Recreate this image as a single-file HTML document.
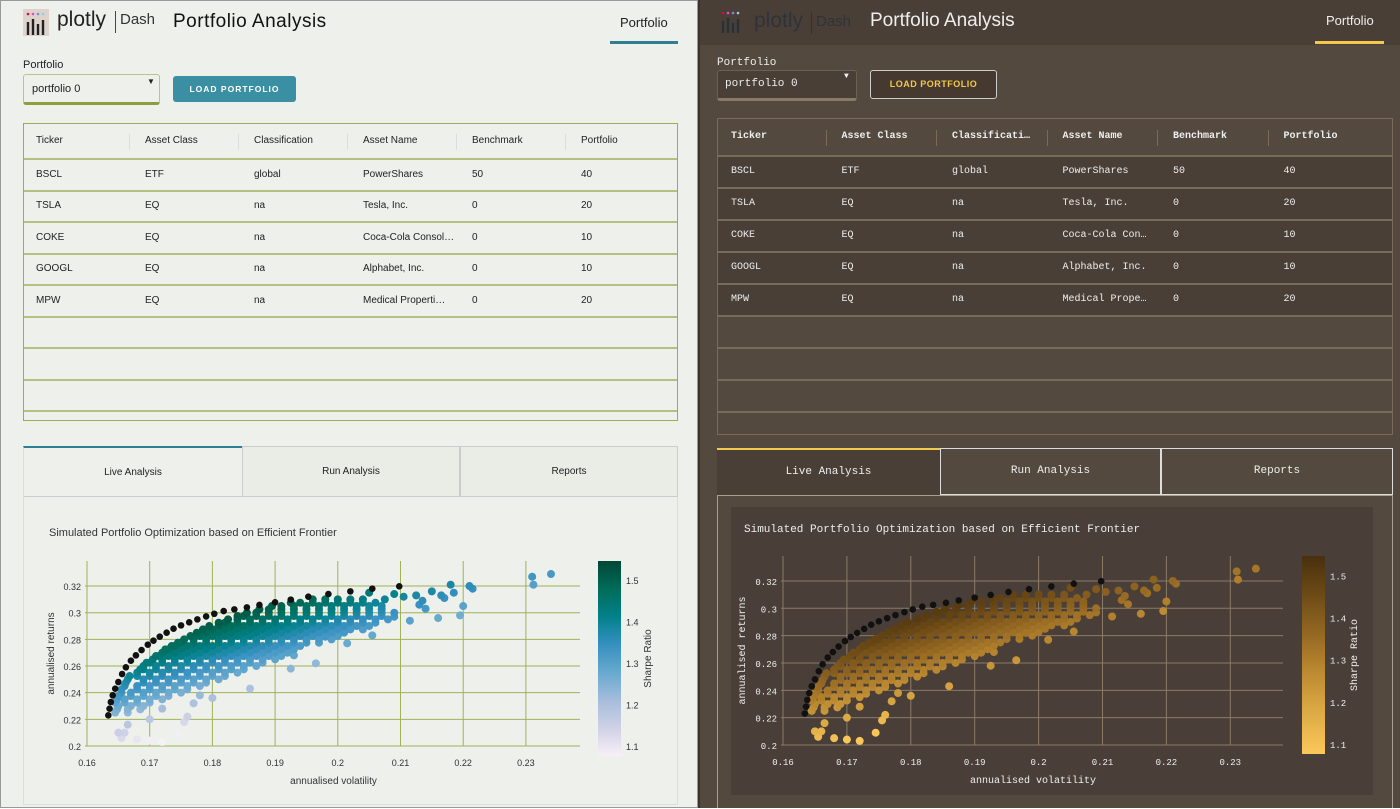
<!DOCTYPE html>
<html><head><meta charset="utf-8">
<style>
*{box-sizing:border-box;margin:0;padding:0}
body{width:1400px;height:808px;overflow:hidden;position:relative;font-family:"Liberation Sans",sans-serif}
.abs{position:absolute}
#L{left:0;top:0;width:698px;height:808px;background:#eef0eb;border:1px solid #999}
#R{left:698px;top:0;width:702px;height:808px;background:#54493f;border-left:2px solid #3b332c;font-family:"Liberation Mono",monospace}
.t{position:absolute;white-space:nowrap}
.cell{position:absolute;font-size:10px;white-space:nowrap}
</style></head><body>
<div id="L" class="abs">
  <div class="abs" style="left:22px;top:8px;width:26px;height:27px;background:#ddd3cb">
    <svg width="26" height="27"><circle cx="5" cy="5" r="1.3" fill="#e04"/><circle cx="10" cy="5" r="1.3" fill="#c5c"/><circle cx="15" cy="5" r="1.3" fill="#88c"/><circle cx="20" cy="5" r="1.3" fill="#8cf"/><g stroke="#222" stroke-width="2.4"><line x1="5" y1="13" x2="5" y2="26"/><line x1="10" y1="10" x2="10" y2="26"/><line x1="15" y1="15" x2="15" y2="26"/><line x1="20" y1="11" x2="20" y2="26"/></g></svg>
  </div>
  <div class="t" style="left:56px;top:7px;font-size:21px;color:#222">plotly</div>
  <div class="abs" style="left:114px;top:10px;width:1px;height:22px;background:#444"></div>
  <div class="t" style="left:119px;top:10px;font-size:15px;color:#333">Dash</div>
  <div class="t" style="left:172px;top:10px;font-size:19px;color:#111;letter-spacing:.5px">Portfolio Analysis</div>
  <div class="t" style="left:619px;top:14px;font-size:13px;color:#222">Portfolio</div>
  <div class="abs" style="left:609px;top:40px;width:68px;height:3px;background:#2f7f93"></div>
  <div class="t" style="left:22px;top:58px;font-size:11px;color:#222">Portfolio</div>
  <div class="abs" style="left:22px;top:73px;width:137px;height:31px;border:1px solid #b8c48a;border-bottom:3px solid #8aa040;border-radius:3px;background:#eef0eb">
    <div class="t" style="left:8px;top:8px;font-size:11px;color:#222">portfolio 0</div>
    <div class="t" style="left:123px;top:2px;font-size:8px;color:#222">▼</div>
  </div>
  <div class="abs" style="left:172px;top:75px;width:123px;height:26px;background:#3a8fa3;border-radius:3px;color:#fff;font-size:8.5px;font-weight:bold;letter-spacing:1px;text-align:center;line-height:26px">LOAD PORTFOLIO</div>
  <div id="tblL" class="abs" style="left:22px;top:122px;width:655px;height:298px;border:1px solid #9aab5a"></div>
  <div class="abs" style="left:22px;top:445px;width:655px;height:51px;border-bottom:1px solid #ccc">
    <div class="abs" style="left:0;top:0;width:219px;height:51px;border-top:2px solid #2f7f93;border-left:1px solid #ddd;text-align:center;line-height:49px;font-size:10px;color:#222">Live Analysis</div>
    <div class="abs" style="left:219px;top:0;width:218px;height:51px;border:1px solid #ccc;background:#eaece6;text-align:center;line-height:49px;font-size:10px;color:#222">Run Analysis</div>
    <div class="abs" style="left:437px;top:0;width:218px;height:51px;border:1px solid #ccc;background:#eaece6;text-align:center;line-height:49px;font-size:10px;color:#222">Reports</div>
  </div>
  <div class="abs" style="left:22px;top:496px;width:655px;height:308px;border:1px solid #ddd;border-top:none"></div>
  <svg id="chartL" class="abs" style="left:0;top:0" width="698" height="808"></svg>
</div>
<div id="R" class="abs">
  <div class="abs" style="left:0;top:0;width:700px;height:45px;background:#4a3f37"></div>
  <svg class="abs" style="left:20px;top:9px" width="26" height="27"><circle cx="3" cy="4" r="1.3" fill="#e04"/><circle cx="8" cy="4" r="1.3" fill="#c5c"/><circle cx="13" cy="4" r="1.3" fill="#88c"/><circle cx="18" cy="4" r="1.3" fill="#8cf"/><g stroke="#283038" stroke-width="2.4"><line x1="3" y1="12" x2="3" y2="24"/><line x1="8" y1="9" x2="8" y2="24"/><line x1="13" y1="14" x2="13" y2="24"/><line x1="18" y1="10" x2="18" y2="24"/></g></svg>
  <div class="t" style="left:54px;top:9px;font-size:21px;color:#2e333a;font-family:'Liberation Sans',sans-serif">plotly</div>
  <div class="abs" style="left:111px;top:12px;width:1px;height:22px;background:#2e333a"></div>
  <div class="t" style="left:116px;top:13px;font-size:15px;color:#2e333a;font-family:'Liberation Sans',sans-serif">Dash</div>
  <div class="t" style="left:170px;top:10px;font-size:19px;color:#eee;font-family:'Liberation Sans',sans-serif">Portfolio Analysis</div>
  <div class="t" style="left:626px;top:13px;font-size:13px;color:#eee;font-family:'Liberation Sans',sans-serif">Portfolio</div>
  <div class="abs" style="left:615px;top:41px;width:69px;height:3px;background:#f2c94c"></div>
  <div class="t" style="left:17px;top:57px;font-size:11px;color:#eee">Portfolio</div>
  <div class="abs" style="left:17px;top:70px;width:140px;height:31px;border:1px solid #6e6050;border-bottom:3px solid #8a7a66;border-radius:3px;background:#4a3f37">
    <div class="t" style="left:7px;top:7px;font-size:11px;color:#eee">portfolio 0</div>
    <div class="t" style="left:126px;top:1px;font-size:8px;color:#eee">▼</div>
  </div>
  <div class="abs" style="left:170px;top:70px;width:127px;height:29px;background:#46392f;border:1px solid #ccc;border-radius:3px;color:#f2c94c;font-size:9px;font-weight:bold;text-align:center;line-height:27px;font-family:'Liberation Sans',sans-serif;letter-spacing:.5px">LOAD PORTFOLIO</div>
  <div id="tblR" class="abs" style="left:17px;top:118px;width:676px;height:317px;border:1px solid #7a6a58"></div>
  <div class="abs" style="left:17px;top:448px;width:676px;height:47px">
    <div class="abs" style="left:0;top:0;width:223px;height:47px;border-top:2px solid #f2c94c;background:#4a3f37;text-align:center;line-height:44px;font-size:11px;color:#eee">Live Analysis</div>
    <div class="abs" style="left:223px;top:0;width:221px;height:47px;border:1px solid #ddd;text-align:center;line-height:44px;font-size:11px;color:#eee">Run Analysis</div>
    <div class="abs" style="left:444px;top:0;width:232px;height:47px;border:1px solid #ddd;text-align:center;line-height:44px;font-size:11px;color:#eee">Reports</div>
  </div>
  <div class="abs" style="left:17px;top:495px;width:676px;height:313px;border:1px solid #aa9e90;border-bottom:none"></div>
  <div class="abs" style="left:31px;top:507px;width:642px;height:288px;background:#4a3f38"></div>
  <svg id="chartR" class="abs" style="left:-700px;top:0" width="1400" height="808"></svg>
</div>
<script>
// ---- table data ----
const headers=["Ticker","Asset Class","Classification","Asset Name","Benchmark","Portfolio"];
const rows=[["BSCL","ETF","global","PowerShares","50","40"],["TSLA","EQ","na","Tesla, Inc.","0","20"],["COKE","EQ","na","Coca-Cola Consol…","0","10"],["GOOGL","EQ","na","Alphabet, Inc.","0","10"],["MPW","EQ","na","Medical Properti…","0","20"]];
const rowsDark=[["BSCL","ETF","global","PowerShares","50","40"],["TSLA","EQ","na","Tesla, Inc.","0","20"],["COKE","EQ","na","Coca-Cola Con…","0","10"],["GOOGL","EQ","na","Alphabet, Inc.","0","10"],["MPW","EQ","na","Medical Prope…","0","20"]];
function buildTable(id,hdrs,data,o){
  const t=document.getElementById(id);
  let h='';
  h+=`<div class="abs" style="left:0;top:0;width:100%;height:${o.hh}px;background:${o.hbg};border-bottom:2px solid ${o.line}"></div>`;
  hdrs.forEach((s,i)=>{h+=`<div class="cell" style="left:${o.px+i*o.cw}px;top:${o.hh/2-7}px;color:${o.fg};font-weight:${o.hw}">${i==2&&o.trunc?'Classificati…':s}</div>`;
    if(i>0)h+=`<div class="abs" style="left:${o.px+i*o.cw-16}px;top:${o.hh/2-8}px;width:1px;height:16px;background:${o.sep}"></div>`;});
  for(let r=0;r<8;r++){const y=o.hh+r*o.rh;
    h+=`<div class="abs" style="left:0;top:${y}px;width:100%;height:${o.rh}px;background:${r<5?o.rbg:o.ebg};border-bottom:2px solid ${o.line}"></div>`;
    if(r<5)data[r].forEach((s,i)=>{h+=`<div class="cell" style="left:${o.px+i*o.cw}px;top:${y+o.rh/2-7}px;color:${o.fg}">${s}</div>`;});}
  t.innerHTML=h;
}
buildTable('tblL',headers,rows,{hh:36,rh:31.5,cw:109,px:12,hbg:'#eef0eb',rbg:'#eef0eb',ebg:'#eef0eb',line:'#b3c07e',sep:'#ddd',fg:'#222',hw:'normal'});
buildTable('tblR',headers,rowsDark,{hh:38,rh:32,cw:110.5,px:13,hbg:'#54493f',rbg:'#4a3f37',ebg:'#54493f',line:'#7a6a58',sep:'#7a6a58',fg:'#eee',hw:'bold',trunc:true});

// ---- chart data ----
const xTicks=[0.16,0.17,0.18,0.19,0.2,0.21,0.22,0.23];
const yTicks=[0.2,0.22,0.24,0.26,0.28,0.3,0.32];
const cbTicks=[1.1,1.2,1.3,1.4,1.5];
const frontierVol=[0.1634,0.1636,0.1638,0.1641,0.1645,0.165,0.1656,0.1662,0.167,0.1678,0.1687,0.1697,0.1706,0.1716,0.1727,0.1738,0.175,0.1763,0.1776,0.179,0.1803,0.1818,0.1835,0.1855,0.1875,0.19,0.1925,0.1953,0.1985,0.202,0.2055,0.2098];
const frontierRet=[0.223,0.228,0.233,0.238,0.243,0.248,0.254,0.259,0.264,0.268,0.272,0.276,0.279,0.282,0.285,0.288,0.2905,0.2928,0.295,0.2972,0.2992,0.3012,0.3025,0.304,0.3058,0.3078,0.3098,0.312,0.314,0.316,0.318,0.3198];
const cloudRets=[0.225,0.2275,0.23,0.2325,0.235,0.2375,0.24,0.2425,0.245,0.2475,0.25,0.2525,0.255,0.2575,0.26,0.2625,0.265,0.2675,0.27,0.2725,0.275,0.2775,0.28,0.2825,0.285,0.2875,0.29,0.2925,0.295,0.2975,0.3,0.3025,0.305,0.3075,0.31];
const cloudVols=[
 [0.1645,0.1665],
 [0.1648,0.1665,0.1685],
 [0.165,0.167,0.169],
 [0.1645,0.166,0.168,0.170],
 [0.1648,0.166,0.168,0.170,0.172],
 [0.165,0.167,0.169,0.171,0.173],
 [0.1655,0.167,0.169,0.171,0.173,0.175],
 [0.1655,0.168,0.170,0.172,0.174,0.176],
 [0.166,0.168,0.170,0.172,0.174,0.176,0.178],
 [0.1662,0.169,0.171,0.173,0.175,0.177,0.179],
 [0.1665,0.169,0.171,0.173,0.175,0.177,0.179,0.181],
 [0.1668,0.168,0.170,0.172,0.174,0.176,0.178,0.180,0.182],
 [0.168,0.170,0.172,0.174,0.176,0.178,0.180,0.182,0.184],
 [0.1685,0.169,0.171,0.173,0.175,0.177,0.179,0.181,0.183,0.185],
 [0.169,0.171,0.173,0.175,0.177,0.179,0.181,0.183,0.185,0.187],
 [0.1695,0.170,0.172,0.174,0.176,0.178,0.180,0.182,0.184,0.186,0.188],
 [0.1705,0.172,0.174,0.176,0.178,0.180,0.182,0.184,0.186,0.188,0.190],
 [0.171,0.1715,0.173,0.175,0.177,0.179,0.181,0.183,0.185,0.187,0.189,0.191],
 [0.172,0.174,0.176,0.178,0.180,0.182,0.184,0.186,0.188,0.190,0.192],
 [0.1725,0.173,0.175,0.177,0.179,0.181,0.183,0.185,0.187,0.189,0.191,0.193],
 [0.1735,0.174,0.176,0.178,0.180,0.182,0.184,0.186,0.188,0.190,0.192,0.194],
 [0.1745,0.175,0.177,0.179,0.181,0.183,0.185,0.187,0.189,0.191,0.193,0.195,0.197],
 [0.1755,0.177,0.179,0.181,0.183,0.185,0.187,0.189,0.191,0.193,0.195,0.197,0.199],
 [0.1765,0.178,0.180,0.182,0.184,0.186,0.188,0.190,0.192,0.194,0.196,0.198,0.200],
 [0.1775,0.179,0.181,0.183,0.185,0.187,0.189,0.191,0.193,0.195,0.197,0.199,0.201],
 [0.1785,0.180,0.182,0.184,0.186,0.188,0.190,0.192,0.194,0.196,0.198,0.200,0.202,0.204],
 [0.1795,0.181,0.183,0.185,0.187,0.189,0.191,0.193,0.195,0.197,0.199,0.201,0.203,0.205],
 [0.181,0.182,0.184,0.186,0.188,0.190,0.192,0.194,0.196,0.198,0.200,0.202,0.204,0.206],
 [0.1825,0.184,0.186,0.188,0.190,0.192,0.194,0.196,0.198,0.200,0.202,0.204,0.206,0.208],
 [0.184,0.185,0.187,0.189,0.191,0.193,0.195,0.197,0.199,0.201,0.203,0.205,0.207],
 [0.1855,0.187,0.189,0.191,0.193,0.195,0.197,0.199,0.201,0.203,0.205,0.207,0.209],
 [0.1875,0.189,0.191,0.193,0.195,0.197,0.199,0.201,0.203,0.205,0.207],
 [0.1895,0.191,0.193,0.195,0.197,0.199,0.201,0.203,0.205,0.207],
 [0.1925,0.194,0.196,0.198,0.200,0.202,0.204,0.206],
 [0.196,0.198,0.200,0.202,0.204]];
const outlierVol=[0.2125,0.215,0.218,0.221,0.2215,0.217,0.213,0.22,0.2195,0.216,0.2115,0.209,0.2075,0.205,0.209,0.231,0.2312,0.234,0.1965,0.193,0.1925,0.186,0.178,0.177,0.176,0.1755,0.1665,0.165,0.166,0.1655,0.168,0.170,0.172,0.1745,0.170,0.172,0.18,0.2015,0.2055,0.201,0.198,0.214,0.2105,0.2135,0.2165,0.2185];
const outlierRet=[0.313,0.316,0.321,0.320,0.318,0.311,0.306,0.305,0.298,0.296,0.294,0.297,0.310,0.315,0.314,0.327,0.321,0.329,0.262,0.268,0.258,0.243,0.238,0.232,0.222,0.218,0.216,0.210,0.210,0.206,0.205,0.204,0.203,0.209,0.220,0.228,0.236,0.277,0.283,0.286,0.282,0.303,0.312,0.309,0.313,0.315];

const NS='http://www.w3.org/2000/svg';
function mk(svg,tag,attrs,name,txt){const e=document.createElementNS(NS,tag);for(const k in attrs)e.setAttribute(k,attrs[k]);


if(txt!==undefined)e.textContent=txt;svg.appendChild(e);return e;}
function lerpC(stops,t){t=Math.max(0,Math.min(1,t));const n=stops.length-1;const i=Math.min(n-1,Math.floor(t*n));const f=t*n-i;
 const a=stops[i],b=stops[i+1];const c=[0,1,2].map(k=>Math.round(a[k]+(b[k]-a[k])*f));return `rgb(${c[0]},${c[1]},${c[2]})`;}
function sharpe(v,r){return (r-0.02)/v;}
function drawChart(svg,g){
  const X=v=>g.x0+(v-0.16)*g.kx, Y=r=>g.y0-(r-0.2)*g.ky;
  const cbY=s=>g.cbB-(s-g.cbMin)/(g.cbMax-g.cbMin)*(g.cbB-g.cbT);
  mk(svg,'text',{x:g.titleX,y:g.titleY,'font-size':g.fs+1,fill:g.fg,'font-family':g.ff},'chart-title','Simulated Portfolio Optimization based on Efficient Frontier');
  xTicks.forEach(t=>{mk(svg,'line',{x1:X(t),x2:X(t),y1:g.top,y2:Y(0.2),stroke:g.grid,'stroke-width':1},'x-gridline');
    mk(svg,'text',{x:X(t),y:g.y0+20,'font-size':g.fs-1,fill:g.fg,'text-anchor':'middle','font-family':g.ff},'x-tick-label',String(t));});
  yTicks.forEach(t=>{mk(svg,'line',{x1:g.x0-2,x2:g.right,y1:Y(t),y2:Y(t),stroke:g.grid,'stroke-width':1},'y-gridline');
    mk(svg,'text',{x:g.x0-6,y:Y(t)+4,'font-size':g.fs-1,fill:g.fg,'text-anchor':'end','font-family':g.ff},'y-tick-label',String(t));});
  mk(svg,'text',{x:(g.x0+g.right)/2,y:g.y0+38,'font-size':g.fs,fill:g.fg,'text-anchor':'middle','font-family':g.ff},'x-axis-title','annualised volatility');
  const yc=(g.top+Y(0.2))/2;
  mk(svg,'text',{x:0,y:0,'font-size':g.fs,fill:g.fg,'text-anchor':'middle','font-family':g.ff,transform:`translate(${g.ytX},${yc}) rotate(-90)`},'y-axis-title','annualised returns');
  const pts=[];
  cloudRets.forEach((r,i)=>cloudVols[i].forEach(v=>pts.push([v,r])));
  outlierVol.forEach((v,i)=>pts.push([v,outlierRet[i]]));
  pts.sort((a,b)=>sharpe(a[0],a[1])-sharpe(b[0],b[1]));
  pts.forEach(p=>{const s=sharpe(p[0],p[1]);
    mk(svg,'circle',{cx:X(p[0]),cy:Y(p[1]),r:g.r,fill:lerpC(g.stops,(s-g.cbMin)/(g.cbMax-g.cbMin))},'portfolio-point');});
  frontierVol.forEach((v,i)=>mk(svg,'circle',{cx:X(v),cy:Y(frontierRet[i]),r:3.3,fill:'#111'},'frontier-point'));
  const gid='grad'+g.id;const defs=mk(svg,'defs',{},'defs');
  const lg=document.createElementNS(NS,'linearGradient');lg.setAttribute('id',gid);lg.setAttribute('x1',0);lg.setAttribute('y1',1);lg.setAttribute('x2',0);lg.setAttribute('y2',0);defs.appendChild(lg);
  g.stops.forEach((c,i)=>{const s=document.createElementNS(NS,'stop');s.setAttribute('offset',i/(g.stops.length-1));s.setAttribute('stop-color',`rgb(${c})`);lg.appendChild(s);});
  mk(svg,'rect',{x:g.cbX,y:g.cbT,width:g.cbW,height:g.cbB-g.cbT,fill:`url(#${gid})`},'colorbar');
  cbTicks.forEach(t=>mk(svg,'text',{x:g.cbX+g.cbW+5,y:cbY(t)+4,'font-size':g.fs-1,fill:g.fg,'font-family':g.ff},'colorbar-tick-label',t.toFixed(1)));
  mk(svg,'text',{x:0,y:0,'font-size':g.fs,fill:g.fg,'text-anchor':'middle','font-family':g.ff,transform:`translate(${g.cbX+g.cbW+g.cbTitleOff},${(g.cbT+g.cbB)/2}) rotate(-90)`},'colorbar-title','Sharpe Ratio');
}
drawChart(document.getElementById('chartL'),{id:'L',x0:86,kx:6270,y0:745,ky:1333,top:560,right:579,titleX:48,titleY:535,ytX:53,
 cbX:597,cbW:23,cbT:560,cbB:755,cbMin:1.076,cbMax:1.546,cbTitleOff:30,fs:10,fg:'#333',grid:'#9fb25a',ff:'Liberation Sans, sans-serif',r:4,
 stops:[[247,240,247],[208,209,230],[166,189,219],[103,169,207],[54,144,192],[2,129,138],[1,108,89],[1,70,54]]});
drawChart(document.getElementById('chartR'),{id:'R',x0:783,kx:6390,y0:745,ky:1367,top:556,right:1283,titleX:744,titleY:532,ytX:745,
 cbX:1302,cbW:23,cbT:556,cbB:754,cbMin:1.076,cbMax:1.546,cbTitleOff:32,fs:10,fg:'#eee',grid:'#8a7a66',ff:'Liberation Mono, monospace',r:4,
 stops:[[250,200,90],[222,172,70],[190,140,50],[150,105,35],[110,75,22],[72,48,14]]});
</script>
</body></html>
